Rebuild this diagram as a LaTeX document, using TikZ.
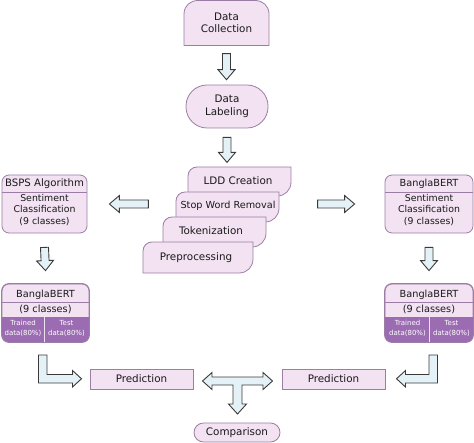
\documentclass[tikz,border=0pt]{standalone}
\usepackage{fontspec}
\setmainfont{DejaVu Sans}
\usetikzlibrary{calc}
\definecolor{pinkf}{HTML}{F2E2F2}
\definecolor{bord}{HTML}{9B7DA5}
\definecolor{purp}{HTML}{9C6CB2}
\definecolor{arrf}{HTML}{E4F2F8}
\definecolor{arrb}{HTML}{3A3A3A}
\definecolor{txtc}{HTML}{1A1A1A}
\tikzset{
 box/.style={draw=bord, fill=pinkf, line width=0.8bp},
 edge/.style={draw=bord, line width=0.8bp},
 arr/.style={draw=arrb, fill=arrf, line width=0.9bp, line join=miter},
 tx/.style={text=txtc, align=center, inner sep=0pt, font=\fontsize{10.4}{12.5}\selectfont},
 sm/.style={text=txtc, align=center, inner sep=0pt, font=\fontsize{9.4}{11.5}\selectfont},
 wt/.style={text=white, align=center, inner sep=0pt, font=\fontsize{7}{9.5}\selectfont},
}
\newcommand\blockarrow[2]{%
 \coordinate (hb) at ($(#2)!10bp!(#1)$);
 \draw[arr] ($(#1)!4bp!90:(#2)$) -- ($(hb)!4bp!90:(#2)$) -- ($(hb)!8.5bp!90:(#2)$) -- (#2)
   -- ($(hb)!8.5bp!-90:(#2)$) -- ($(hb)!4bp!-90:(#2)$) -- ($(#1)!4bp!-90:(#2)$) -- cycle;}
\newcommand\tabshape[4]{%
 \draw[box] (#1,#4) -- (#1,#2+9) .. controls (#1,#2+4) and (#1+4,#2) .. (#1+9,#2) -- (#3,#2)
   -- (#3,#4-14) .. controls (#3,#4-6) and (#3-6,#4) .. (#3-14,#4) -- cycle;}
\newcommand\purpbot[4]{%
 \fill[purp] (#1,#2) -- (#3,#2) -- (#3,#4-7) .. controls (#3,#4-3) and (#3-3,#4) .. (#3-7,#4)
   -- (#1+7,#4) .. controls (#1+3,#4) and (#1,#4-3) .. (#1,#4-7) -- cycle;}
\begin{document}
\begin{tikzpicture}[x=1bp,y=-1bp]
\useasboundingbox (0,0) rectangle (474,443);
% Data Collection
\draw[box] (184,45.5) -- (184,14) .. controls (184,6) and (190,0.5) .. (198,0.5) -- (255,0.5)
  .. controls (263,0.5) and (269,6) .. (269,14) -- (269,45.5) -- cycle;
\node[tx, minimum width=85bp, minimum height=45bp] (dc) at (226.5,23) {Data\\Collection};
% Data Labeling
\node[box, tx, rounded corners=21bp, minimum width=82bp, minimum height=43bp] (dl) at (227,106.5) {Data\\Labeling};
% stacked steps
\tabshape{188}{167}{291}{196}
\node[tx] (ldd) at (238,181) {LDD Creation};
\tabshape{176}{192}{279}{222}
\node[tx, font=\fontsize{9.7}{11}\selectfont] (swr) at (228,206) {Stop Word Removal};
\tabshape{163}{217}{266}{247}
\node[tx] (tok) at (211,231) {Tokenization};
\tabshape{143}{242}{253}{273}
\node[tx] (pre) at (196,258) {Preprocessing};
% BSPS box
\node[box, rounded corners=7bp, minimum width=85bp, minimum height=58bp, inner sep=0pt] (bsps) at (44.5,204) {};
\draw[edge] (2,192) -- (87,192);
\node[tx, font=\fontsize{10.2}{12}\selectfont] (bspsh) at (44.5,183.5) {BSPS Algorithm};
\node[sm] (bspsb) at (44.5,210) {Sentiment\\Classification\\(9 classes)};
% BanglaBERT sentiment box
\node[box, rounded corners=7bp, minimum width=88bp, minimum height=58bp, inner sep=0pt] (bbs) at (429,204) {};
\draw[edge] (385,192) -- (473,192);
\node[tx, font=\fontsize{9.8}{12}\selectfont] (bbsh) at (429,183.5) {BanglaBERT};
\node[sm] (bbsb) at (429,210) {Sentiment\\Classification\\(9 classes)};
% BanglaBERT bottom left
\node[box, rounded corners=7bp, minimum width=87bp, minimum height=58bp, inner sep=0pt] (bbl) at (45.5,313) {};
\purpbot{2}{317}{89}{342}
\draw[edge, rounded corners=7bp] (bbl.south west) rectangle (bbl.north east);
\draw[edge] (2,302) -- (89,302);
\draw[white!80!purp, line width=0.7bp] (44,317) -- (44,342);
\node[tx, font=\fontsize{9.8}{12}\selectfont] (bblh) at (45.5,294.5) {BanglaBERT};
\node[sm, font=\fontsize{9.8}{12}\selectfont] (bblc) at (45.5,309.5) {(9 classes)};
\node[wt] (bblt) at (23,328.5) {Trained\\data(80\%)};
\node[wt] (bble) at (66.5,328.5) {Test\\data(80\%)};
% BanglaBERT bottom right
\node[box, rounded corners=7bp, minimum width=88bp, minimum height=58bp, inner sep=0pt] (bbr) at (429,313) {};
\purpbot{385}{317}{473}{342}
\draw[edge, rounded corners=7bp] (bbr.south west) rectangle (bbr.north east);
\draw[edge] (385,302) -- (473,302);
\draw[white!80!purp, line width=0.7bp] (429.5,317) -- (429.5,342);
\node[tx, font=\fontsize{9.8}{12}\selectfont] (bbrh) at (429,294.5) {BanglaBERT};
\node[sm, font=\fontsize{9.8}{12}\selectfont] (bbrc) at (429,309.5) {(9 classes)};
\node[wt] (bbrt) at (407.5,328.5) {Trained\\data(80\%)};
\node[wt] (bbre) at (451.5,328.5) {Test\\data(80\%)};
% Predictions and comparison
\node[box, tx, minimum width=103bp, minimum height=20bp] (predl) at (141.5,379) {Prediction};
\node[box, tx, minimum width=103bp, minimum height=20bp] (predr) at (333.5,379) {Prediction};
\node[box, tx, rounded corners=9.5bp, minimum width=86bp, minimum height=19bp] (cmp) at (237,432.5) {Comparison};
% arrows
\blockarrow{$(dc.south)+(0,8)$}{$(dc.south)+(0,34)$}
\blockarrow{$(dl.south)+(0,9)$}{$(dl.south)+(0,34)$}
\blockarrow{$(bsps.east)+(61,0)$}{$(bsps.east)+(22,0)$}
\blockarrow{$(bbs.west)+(-67,0)$}{$(bbs.west)+(-30,0)$}
\blockarrow{$(bsps.south)+(0,14)$}{$(bbl.north)+(0,-13)$}
\blockarrow{$(bbs.south)+(0,14)$}{$(bbr.north)+(0,-13)$}
\draw[arr] (38.5,355) -- (47,355) -- (47,374.5) -- (72.5,374.5) -- (72.5,370.5) -- (81.5,378.75)
  -- (72.5,387) -- (72.5,383) -- (38.5,383) -- cycle;
\draw[arr] (437.5,355) -- (429,355) -- (429,374.5) -- (405.5,374.5) -- (405.5,370.5) -- (396.5,378.75)
  -- (405.5,387) -- (405.5,383) -- (437.5,383) -- cycle;
\draw[arr] (202.5,381) -- (212,372.5) -- (212,377) -- (263,377) -- (263,372.5) -- (272.5,381)
  -- (263,389.5) -- (263,385) -- (242,385) -- (242,404) -- (246.5,404) -- (237.5,414)
  -- (228.5,404) -- (233,404) -- (233,385) -- (212,385) -- (212,389.5) -- cycle;
\end{tikzpicture}
\end{document}
